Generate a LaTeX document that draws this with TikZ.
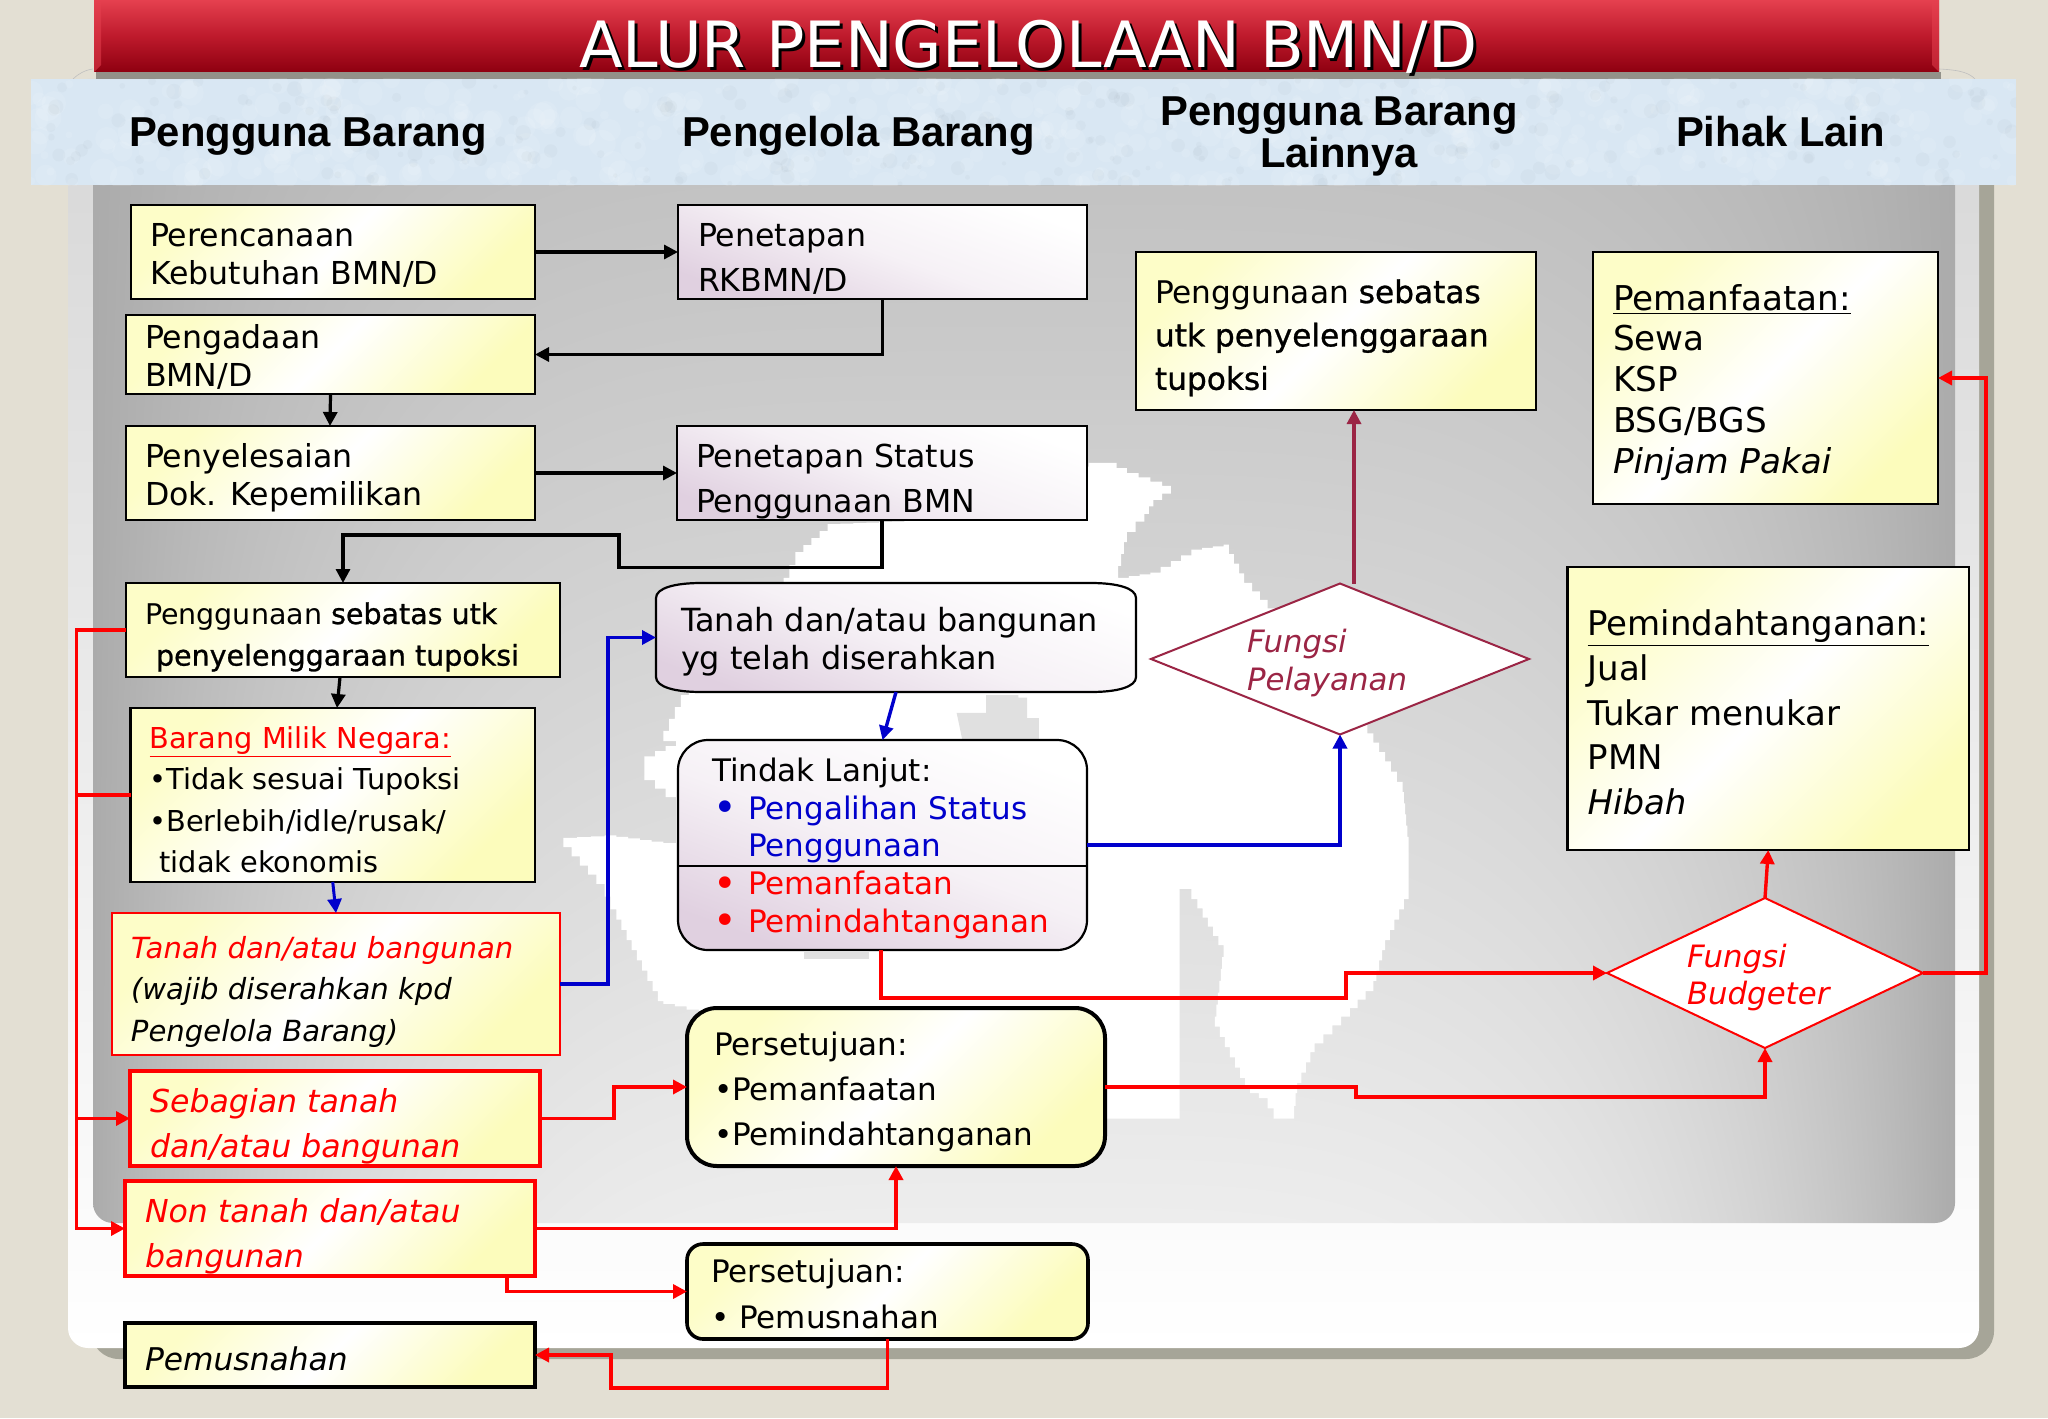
\documentclass[tikz,border=0pt]{standalone}
\usepackage{fontspec}
\setmainfont{DejaVu Sans}
\newfontfamily\hdfont{Liberation Sans}[BoldFont={Liberation Sans Bold}]
\newfontfamily\fbf[FakeBold=0.9]{DejaVu Sans}
\usetikzlibrary{arrows.meta,shapes.geometric}
\definecolor{pagebg}{HTML}{E3DFD3}
\definecolor{shadowc}{HTML}{A6A598}
\definecolor{bandc}{HTML}{D9E7F3}
\definecolor{ya}{HTML}{FDFDC8}
\definecolor{yb}{HTML}{FCFCBC}
\definecolor{lila}{HTML}{E0D0E0}
\definecolor{rede}{HTML}{FF0000}
\definecolor{blu}{HTML}{0000CC}
\definecolor{wine}{HTML}{9B2545}
\definecolor{bara}{HTML}{E5404F}
\definecolor{barb}{HTML}{BE1A2C}
\definecolor{barc}{HTML}{8E0010}
\pgfdeclarefunctionalshading{graypaneltwo}{\pgfpointorigin}{\pgfpoint{100bp}{100bp}}{}{
  25 sub 50 div exch 25 sub 50 div
  0.5 sub abs 2 mul
  dup mul dup mul
  exch
  1 index 1 exch sub mul 0.18 mul
  exch 0.26 mul add
  0.93 exch sub
  dup dup
}
\tikzset{
  fs/.style 2 args={font=\fontsize{#1}{#2}\selectfont},
  yel/.style={top color=ya,bottom color=yb,middle color=white,shading angle=45},
  wht/.style={top color=white,bottom color=lila,middle color=white!70!lila,shading angle=-20},
  thinb/.style={draw=black,line width=1.1pt},
  thickb/.style={draw=black,line width=1.8pt},
  redthin/.style={draw=rede,line width=1.3pt},
  redthick/.style={draw=rede,line width=2pt},
  tipped/.style={-{Triangle[length=7pt,width=7pt]}},
  blk/.style={tipped,draw=black,line width=1.6pt},
  rl/.style={tipped,draw=rede,line width=1.7pt},
  rp/.style={draw=rede,line width=1.7pt},
  bl/.style={tipped,draw=blu,line width=1.7pt},
  bp/.style={draw=blu,line width=1.7pt},
  dmd/.style={diamond,fill=white,inner sep=0pt,outer sep=0pt,font=\fontsize{15.4}{19}\selectfont\itshape},
  hd/.style={anchor=base west,inner sep=0pt,outer sep=0pt,font=\hdfont\bfseries\fontsize{20.9}{22}\selectfont}
}
% name, style, x1, y1, x2, y2, left pad, first baseline offset, text
\newcommand\txbox[9]{%
  \pgfmathsetmacro\bw{(#5-#3)/2}\pgfmathsetmacro\bh{(#6-#4)/2}%
  \pgfmathsetmacro\bpad{#7/2}\pgfmathsetmacro\bb{#8/2}%
  \node[inner sep=0pt,outer sep=0pt,anchor=north west,#2] (#1) at (#3,#4) {\parbox[c][\bh pt][t]{\bw pt}{%
    \raggedright\leftskip=\bpad pt\relax\vspace*{\dimexpr\bb pt-1em\relax}\rule{0pt}{1em}#9\par}};}
\newcommand\dl[3]{\rlap{\hspace*{#1pt}\raisebox{#2pt}[0pt][0pt]{#3}}}
\newcommand\blt[1]{\rlap{\hspace*{0.5pt}\raisebox{-1.3pt}[0pt][0pt]{\fontsize{20}{20}\selectfont\textcolor{#1}{•}}}\hspace*{18pt}}
\newcommand\ttl{ALUR PENGELOLAAN BMN/D}
\def\mapxy{965/45,1000/65,1060/90,1075/105,1045/130,1030/160,1000/200,985/270,1040/260,1110/215,1165/205,1200/280,1240/330,1300/400,1410/575,1440/630,1470/690,1480/800,1480/900,1440/1000,1420/1080,1380/1130,1320/1200,1290/1280,1285/1330,1260/1330,1240/1290,1210/1270,1150/1130,1165/990,1120/900,1110/880,1090/880,1090/1330,960/1330,250/1110,210/1100,165/1000,130/920,110/870,40/780,110/775,210/790,232/800,232/700,178/650,178/620,232/590,210/570,240/500,415/270,435/220,490/165,600/160,935/45}
\begin{document}
\begin{tikzpicture}[x=0.5pt,y=-0.5pt]
\useasboundingbox (0,0) rectangle (2048,1418);
\fill[pagebg] (0,0) rectangle (2048,1418);
% slide panel
\fill[shadowc,rounded corners=14pt] (91,90) rectangle (1994,1359);
\shade[top color=black!16,bottom color=white,rounded corners=10pt] (68,79) rectangle (1979,1348);
\draw[black!25,line width=0.3pt] (73,79) .. controls (78,74) and (85,70) .. (93,69);
\draw[black!25,line width=0.3pt] (1975,79) .. controls (1970,74) and (1963,70) .. (1939,69);
\shade[shading=graypaneltwo,rounded corners=10pt] (93,100) rectangle (1955,1223);
% map watermark
\begin{scope}[shift={(540,440)},x=0.29343pt,y=-0.25510pt]
\gdef\prevx{935}\gdef\prevy{45}\gdef\stairpath{(935,45)}
\foreach \px/\py in \mapxy {
  \pgfmathtruncatemacro\nn{max(1,round(veclen((\px-\prevx)/22,(\py-\prevy)/22)))}
  \foreach \k in {1,...,\nn}{
    \pgfmathsetmacro\qx{\prevx+(\px-\prevx)/\nn*\k}
    \pgfmathsetmacro\qy{\prevy+(\py-\prevy)/\nn*\k}
    \xdef\stairpath{\stairpath -| (\qx,\qy)}
  }
  \xdef\prevx{\px}\xdef\prevy{\py}
}
\edef\mapcmd{\noexpand\fill[white] \stairpath -- cycle;}
\mapcmd
\fill[black!12] (710,535) -| (760,500) -| (815,505) -| (830,545) -| (850,590) -- (720,590) -- cycle;
\fill[black!12] (450,1003) rectangle (560,1018);
\end{scope}
% title bar
\fill[black,opacity=0.35] (96,72) rectangle (1941,79);
\shade[top color=bara,bottom color=barc,middle color=barb] (94,0) rectangle (1939,72);
\fill[bara,opacity=0.55] (94,0) -- (101,0) -- (101,65) -- (94,72) -- cycle;
\fill[bara,opacity=0.55] (1939,0) -- (1932,0) -- (1932,65) -- (1939,72) -- cycle;
% header band
\fill[bandc] (31,79) rectangle (2016,185);
\begin{scope}
\clip (31,79) rectangle (2016,185);
\pgfmathsetseed{7}
\foreach \i in {1,...,500}{
  \pgfmathsetmacro\xx{31+1985*rnd}\pgfmathsetmacro\yy{79+106*rnd}\pgfmathsetmacro\rr{3+11*rnd}
  \fill[white,opacity=0.10] (\xx,\yy) circle[radius=\rr];
}
\foreach \i in {1,...,300}{
  \pgfmathsetmacro\xx{31+1985*rnd}\pgfmathsetmacro\yy{79+106*rnd}\pgfmathsetmacro\rr{2+6*rnd}
  \fill[black!40!bandc,opacity=0.05] (\xx,\yy) circle[radius=\rr];
}
\end{scope}
\node[anchor=base west,inner sep=0pt,outer sep=0pt,font=\fontsize{31.9}{34}\selectfont] (title) at (579,68)
  {\rlap{\hspace*{1.5pt}\raisebox{-1.5pt}{\textcolor{black}{\ttl}}}\textcolor{white}{\ttl}};
\node[hd] (h1) at (129,147) {Pengguna Barang};
\node[hd] (h2) at (682,147) {Pengelola Barang};
\node[inner sep=0pt,outer sep=0pt,align=center,font=\hdfont\bfseries\fontsize{20.9}{19}\selectfont] (h3) at (1339,136.5) {Pengguna Barang\\Lainnya};
\node[hd] (h4) at (1676,147) {Pihak Lain};
% left column
\txbox{per}{yel,thinb,fs={15.8}{19}}{131}{205}{535}{299}{19}{41}{Perencanaan\\Kebutuhan BMN/D}
\txbox{pen}{wht,thinb,fs={15.8}{22.5}}{678}{205}{1087}{299}{20}{41}{Penetapan\\RKBMN/D}
\txbox{pgd}{yel,thinb,fs={15.8}{19}}{126}{315}{535}{394}{19}{33}{Pengadaan\\BMN/D}
\txbox{pny}{yel,thinb,fs={15.8}{19}}{126}{426}{535}{520}{19}{41}{Penyelesaian\\Dok. Kepemilikan}
\txbox{pst}{wht,thinb,fs={15.8}{22.5}}{677}{426}{1087}{520}{19}{41}{Penetapan Status\\Penggunaan BMN}
\txbox{peng}{yel,thinb,fs={14.25}{20.8}}{126}{583}{560}{677}{19}{41}{Penggunaan {\fbf sebatas utk}\\\hspace*{5.5pt}{\fbf penyelenggaraan tupoksi}}
\txbox{bmn}{yel,thinb,fs={14.4}{20.8}}{130.5}{708}{535}{882}{19}{40}{\textcolor{rede}{\underline{Barang Milik Negara:}}\\•Tidak sesuai Tupoksi\\•Berlebih/idle/rusak/\\\hspace*{5pt}tidak ekonomis}
\txbox{tw}{yel,redthin,font=\fontsize{14.55}{20.8}\selectfont\itshape}{112}{913}{560}{1055}{19}{45}{\textcolor{rede}{Tanah dan/atau bangunan}\\(wajib diserahkan kpd\\Pengelola Barang)}
\txbox{sb}{yel,redthick,text=rede,font=\fontsize{15.8}{22.5}\selectfont\itshape}{130}{1071}{540}{1166}{20}{41}{Sebagian tanah\\dan/atau bangunan}
\txbox{nt}{yel,redthick,text=rede,font=\fontsize{15.8}{22.5}\selectfont\itshape}{125}{1181}{535}{1276}{20}{41}{Non tanah dan/atau\\bangunan}
\txbox{pem}{yel,thickb,font=\fontsize{15.65}{22.5}\selectfont\itshape}{125}{1323}{535}{1387}{20}{47}{Pemusnahan}
% middle column
\draw[wht,thinb] (656,598) .. controls (656,588) and (675,583) .. (701,583) -- (1091,583) .. controls (1117,583) and (1136,588) .. (1136,598) -- (1136,677) .. controls (1136,687) and (1117,692) .. (1091,692) -- (701,692) .. controls (675,692) and (656,687) .. (656,677) -- cycle;
\txbox{ty}{fs={15.95}{19}}{656}{583}{1136}{692}{25}{48}{Tanah dan/atau bangunan\\yg telah diserahkan}
\txbox{tl}{wht,thinb,rounded corners=15pt,fs={15.5}{18.85}}{678}{740}{1087}{950}{34}{41.5}{Tindak Lanjut:\\\textcolor{blu}{\blt{blu}Pengalihan Status}\\\textcolor{blu}{\hspace*{18pt}Penggunaan}\\\textcolor{rede}{\blt{rede}Pemanfaatan}\\\textcolor{rede}{\blt{rede}Pemindahtanganan}}
\txbox{p1}{yel,thickb,line width=2pt,rounded corners=15pt,fs={15.5}{22.7}}{687}{1008}{1105}{1166}{27}{47}{Persetujuan:\\•Pemanfaatan\\•Pemindahtanganan}
\txbox{p2}{yel,thickb,rounded corners=8pt,fs={15.5}{23}}{687}{1244}{1088}{1339}{24}{38}{Persetujuan:\\• Pemusnahan}
% right columns
\txbox{sp}{yel,thinb,fs={15.6}{21.7}}{1136}{252}{1536}{410}{19}{51}{Penggunaan {\fbf sebatas}\\{\fbf utk penyelenggaraan}\\{\fbf tupoksi}}
\txbox{pf}{yel,thinb,fs={17.1}{20.4}}{1593}{252}{1938}{504}{20}{58}{\underline{Pemanfaatan:}\\Sewa\\KSP\\BSG/BGS\\\textit{Pinjam Pakai}}
\txbox{pd}{yel,thinb,fs={17}{22.4}}{1567.5}{567}{1969}{850}{20}{68.5}{\underline{Pemindahtanganan:}\\Jual\\Tukar menukar\\PMN\\\textit{Hibah}}
\node[dmd,draw=wine,text=wine,line width=1pt,minimum width=189pt,minimum height=75.5pt] (fp) at (1340,659)
  {\dl{-46.5}{3.5}{Fungsi}\dl{-46.5}{-15.5}{Pelayanan}};
\node[dmd,draw=rede,text=rede,line width=1pt,minimum width=158pt,minimum height=75pt] (fb) at (1765,973)
  {\dl{-39}{3}{Fungsi}\dl{-39}{-15.7}{Budgeter}};
% divider
\draw[black,line width=0.9pt] (tl.west |- 0,866) -- (tl.east |- 0,866);
% connectors
\draw[blk] (per.east) -- (pen.west);
\draw[blk] (pen.south) |- (pgd.east);
\draw[blk] (pgd.south) -- (330,0 |- pny.north);
\draw[blk] (pny.east) -- (pst.west);
\draw[blk] (pst.south) |- (619,567.5) |- (343,535) -- (peng.north);
\draw[blk] (340,0 |- peng.south) -- (337,0 |- bmn.north);
\draw[bl,line width=1.5pt] (bmn.south) -- (tw.north);
\draw[bl] (tw.east) -| (608,637.5) -- (ty.west);
\draw[bl] (896,0 |- ty.south) -- (tl.north);
\draw[bl] (tl.east) -| (fp.south);
\draw[tipped,draw=wine,line width=1.6pt] (1354,0 |- fp.north) -- (1354,0 |- sp.south);
\draw[rl] (peng.west) -| (76.5,1228.5) -- (nt.west);
\draw[rp] (bmn.west) -- (76.5,0 |- bmn.west);
\draw[rl] (76.5,0 |- sb.west) -- (sb.west);
\draw[rl] (sb.east) -| (614,1087) -- (p1.west);
\draw[rl] (nt.east) -| (p1.south);
\draw[rl] (507,0 |- nt.south) |- (p2.west);
\draw[rl] (p2.south) |- (611,1388) |- (pem.east);
\draw[rl] (881,0 |- tl.south) |- (1346,998) |- (fb.west);
\draw[rl] (p1.east) -| (1356,1097) -| (fb.south);
\draw[rl] (fb.north) -- (pd.south);
\draw[rl] (fb.east) -| (1986,378) -- (pf.east);
\end{tikzpicture}
\end{document}
